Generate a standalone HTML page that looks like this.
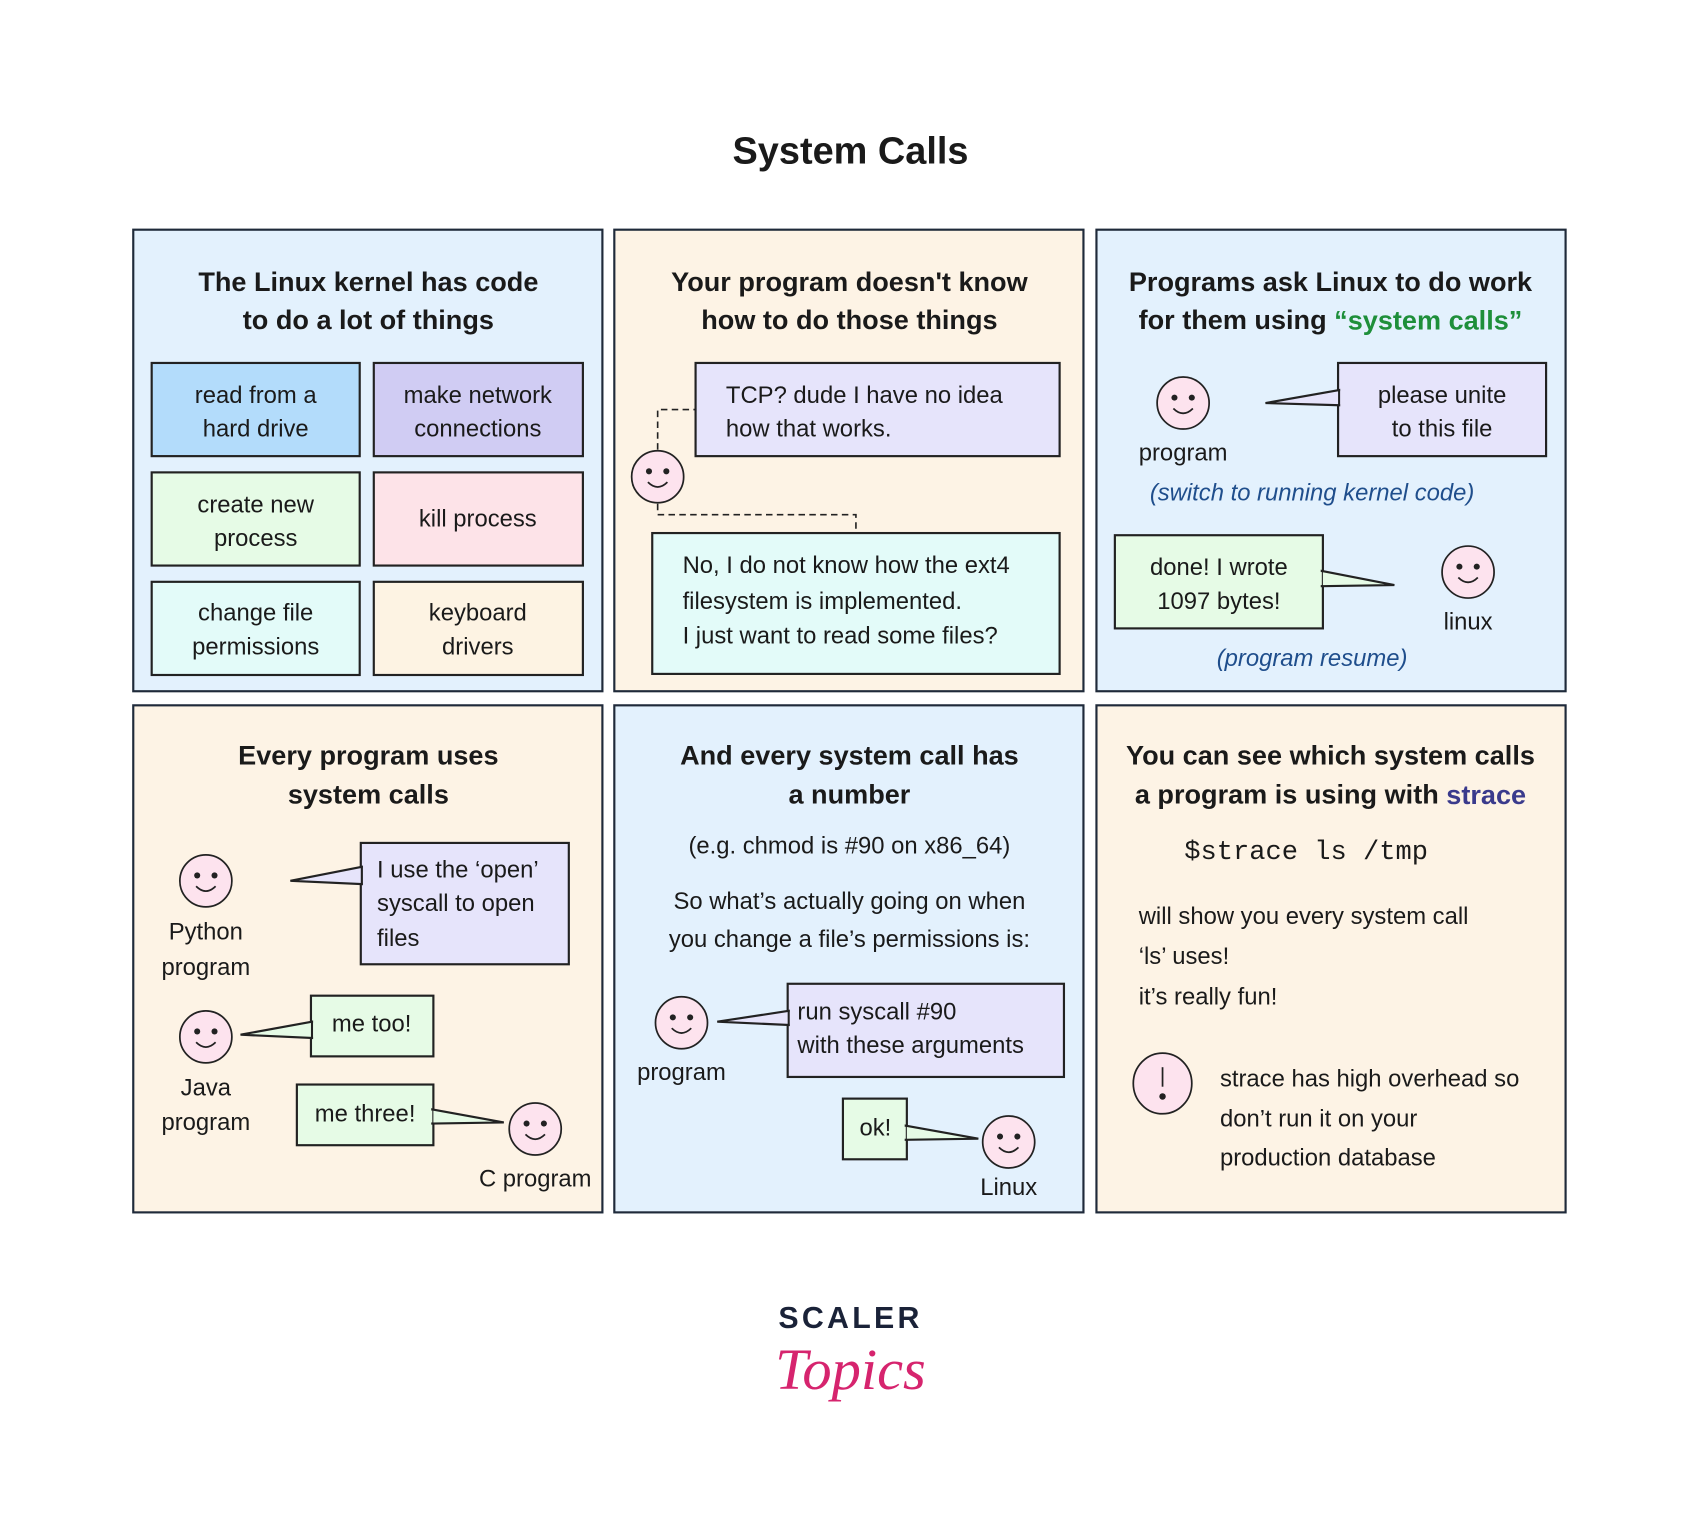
<!DOCTYPE html>
<html><head><meta charset="utf-8"><style>
html,body{margin:0;padding:0;background:#fff;}
svg{display:block;}
text{font-family:"Liberation Sans",sans-serif;fill:#1a1a1a;}
.h{font-weight:bold;font-size:25px;text-anchor:middle;}
.t{font-size:22px;}
.c{text-anchor:middle;}
.it{font-style:italic;fill:#1f4e8c;font-size:22px;text-anchor:middle;}
</style></head><body>
<svg width="1700" height="1519" viewBox="0 0 1569 1402" preserveAspectRatio="xMinYMin meet" xmlns="http://www.w3.org/2000/svg" dominant-baseline="central">
<defs>
<g id="sm"><circle r="24" fill="#fde3ee" stroke="#222" stroke-width="1.6"/><circle cx="-8" cy="-5" r="2.8" fill="#222"/><circle cx="8" cy="-5" r="2.8" fill="#222"/><path d="M-9 5 Q0 14 9 5" fill="none" stroke="#222" stroke-width="1.6"/></g>
</defs>
<text x="785" y="140" class="h" style="font-size:35px">System Calls</text>

<g stroke="#1f2a3a" stroke-width="2">
<rect x="123" y="212" width="433" height="426" fill="#e3f1fd"/>
<rect x="567" y="212" width="433" height="426" fill="#fdf3e5"/>
<rect x="1012" y="212" width="433" height="426" fill="#e3f1fd"/>
<rect x="123" y="651" width="433" height="468" fill="#fdf3e5"/>
<rect x="567" y="651" width="433" height="468" fill="#e3f1fd"/>
<rect x="1012" y="651" width="433" height="468" fill="#fdf3e5"/>
</g>

<text x="340" y="260" class="h">The Linux kernel has code</text>
<text x="340" y="295" class="h">to do a lot of things</text>
<g stroke="#222" stroke-width="2">
<rect x="140" y="335" width="192" height="86" fill="#b3dcfb"/>
<rect x="345" y="335" width="193" height="86" fill="#d0ccf3"/>
<rect x="140" y="436" width="192" height="86" fill="#e6fbe6"/>
<rect x="345" y="436" width="193" height="86" fill="#fde3e8"/>
<rect x="140" y="537" width="192" height="86" fill="#e3fbf9"/>
<rect x="345" y="537" width="193" height="86" fill="#fdf3e3"/>
</g>
<text x="236" y="365" class="t c">read from a</text><text x="236" y="396" class="t c">hard drive</text>
<text x="441" y="365" class="t c">make network</text><text x="441" y="396" class="t c">connections</text>
<text x="236" y="466" class="t c">create new</text><text x="236" y="497" class="t c">process</text>
<text x="441" y="479" class="t c">kill process</text>
<text x="236" y="566" class="t c">change file</text><text x="236" y="597" class="t c">permissions</text>
<text x="441" y="566" class="t c">keyboard</text><text x="441" y="597" class="t c">drivers</text>

<text x="784" y="260" class="h">Your program doesn't know</text>
<text x="784" y="295" class="h">how to do those things</text>
<path d="M607 415 V378 H642 M607 465 V475 H790 V492" fill="none" stroke="#222" stroke-width="1.5" stroke-dasharray="6 4"/>
<rect x="642" y="335" width="336" height="86" fill="#e6e4fb" stroke="#222" stroke-width="2"/>
<text x="670" y="365" class="t">TCP? dude I have no idea</text>
<text x="670" y="396" class="t">how that works.</text>
<use href="#sm" x="607" y="440"/>
<rect x="602" y="492" width="376" height="130" fill="#e3fbf9" stroke="#222" stroke-width="2"/>
<text x="630" y="522" class="t">No, I do not know how the ext4</text>
<text x="630" y="555" class="t">filesystem is implemented.</text>
<text x="630" y="587" class="t">I just want to read some files?</text>

<text x="1228" y="260" class="h">Programs ask Linux to do work</text>
<text x="1228" y="295" class="h">for them using <tspan style="fill:#1e8f3a">“system calls”</tspan></text>
<use href="#sm" x="1092" y="372"/>
<text x="1092" y="418" class="t c">program</text>
<rect x="1235" y="335" width="192" height="86" fill="#e6e4fb" stroke="#222" stroke-width="2"/>
<path d="M1236 360 L1168 372 L1236 374 Z" fill="#e6e4fb" stroke="#222" stroke-width="2"/>
<rect x="1237" y="361" width="4" height="12" fill="#e6e4fb"/>
<text x="1331" y="365" class="t c">please unite</text>
<text x="1331" y="396" class="t c">to this file</text>
<text x="1211" y="455" class="it">(switch to running kernel code)</text>
<rect x="1029" y="494" width="192" height="86" fill="#e6fbe6" stroke="#222" stroke-width="2"/>
<path d="M1220 527 L1287 540 L1220 541 Z" fill="#e6fbe6" stroke="#222" stroke-width="2"/>
<rect x="1215" y="528" width="5" height="12" fill="#e6fbe6"/>
<text x="1125" y="524" class="t c">done! I wrote</text>
<text x="1125" y="555" class="t c">1097 bytes!</text>
<use href="#sm" x="1355" y="528"/>
<text x="1355" y="574" class="t c">linux</text>
<text x="1211" y="608" class="it">(program resume)</text>

<text x="340" y="697" class="h">Every program uses</text>
<text x="340" y="733" class="h">system calls</text>
<use href="#sm" x="190" y="813"/>
<text x="190" y="860" class="t c">Python</text>
<text x="190" y="893" class="t c">program</text>
<rect x="333" y="778" width="192" height="112" fill="#e6e4fb" stroke="#222" stroke-width="2"/>
<path d="M334 800 L268 813 L334 816 Z" fill="#e6e4fb" stroke="#222" stroke-width="2"/>
<rect x="335" y="801" width="4" height="14" fill="#e6e4fb"/>
<text x="348" y="803" class="t">I use the ‘open’</text>
<text x="348" y="834" class="t">syscall to open</text>
<text x="348" y="866" class="t">files</text>
<use href="#sm" x="190" y="957"/>
<text x="190" y="1004" class="t c">Java</text>
<text x="190" y="1036" class="t c">program</text>
<rect x="287" y="919" width="113" height="56" fill="#e6fbe6" stroke="#222" stroke-width="2"/>
<path d="M288 943 L222 955 L288 958 Z" fill="#e6fbe6" stroke="#222" stroke-width="2"/>
<rect x="289" y="944" width="4" height="13" fill="#e6fbe6"/>
<text x="343" y="945" class="t c">me too!</text>
<rect x="274" y="1001" width="126" height="56" fill="#e6fbe6" stroke="#222" stroke-width="2"/>
<path d="M399 1024 L465 1036 L399 1037 Z" fill="#e6fbe6" stroke="#222" stroke-width="2"/>
<rect x="395" y="1025" width="4" height="11" fill="#e6fbe6"/>
<text x="337" y="1028" class="t c">me three!</text>
<use href="#sm" x="494" y="1042"/>
<text x="494" y="1088" class="t c">C program</text>

<text x="784" y="697" class="h">And every system call has</text>
<text x="784" y="733" class="h">a number</text>
<text x="784" y="781" class="t c">(e.g. chmod is #90 on x86_64)</text>
<text x="784" y="832" class="t c">So what’s actually going on when</text>
<text x="784" y="867" class="t c">you change a file’s permissions is:</text>
<use href="#sm" x="629" y="944"/>
<text x="629" y="990" class="t c">program</text>
<rect x="727" y="908" width="255" height="86" fill="#e6e4fb" stroke="#222" stroke-width="2"/>
<path d="M728 933 L662 943 L728 946 Z" fill="#e6e4fb" stroke="#222" stroke-width="2"/>
<rect x="729" y="934" width="4" height="11" fill="#e6e4fb"/>
<text x="736" y="934" class="t">run syscall #90</text>
<text x="736" y="965" class="t">with these arguments</text>
<rect x="778" y="1014" width="59" height="56" fill="#e6fbe6" stroke="#222" stroke-width="2"/>
<path d="M836 1039 L903 1051 L836 1052 Z" fill="#e6fbe6" stroke="#222" stroke-width="2"/>
<rect x="832" y="1040" width="4" height="11" fill="#e6fbe6"/>
<text x="808" y="1041" class="t c">ok!</text>
<use href="#sm" x="931" y="1054"/>
<text x="931" y="1096" class="t c">Linux</text>

<text x="1228" y="697" class="h">You can see which system calls</text>
<text x="1228" y="733" class="h">a program is using with <tspan style="fill:#3a3a8c">strace</tspan></text>
<text x="1093" y="787" style="font-family:'Liberation Mono',monospace;font-size:25px">$strace ls /tmp</text>
<text x="1051" y="846" class="t">will show you every system call</text>
<text x="1051" y="883" class="t">‘ls’ uses!</text>
<text x="1051" y="920" class="t">it’s really fun!</text>
<ellipse cx="1073" cy="1000" rx="27" ry="28" fill="#fde3ee" stroke="#222" stroke-width="1.6"/>
<line x1="1073" y1="985" x2="1073" y2="1003" stroke="#222" stroke-width="1.6"/>
<circle cx="1073" cy="1012" r="3" fill="#222"/>
<text x="1126" y="996" class="t">strace has high overhead so</text>
<text x="1126" y="1033" class="t">don’t run it on your</text>
<text x="1126" y="1069" class="t">production database</text>

<text x="785" y="1217" class="c" style="font-weight:bold;font-size:28px;letter-spacing:3px;fill:#1a2238">SCALER</text>
<text x="785" y="1264" class="c" style="font-family:'Liberation Serif',serif;font-style:italic;font-size:54px;fill:#d6246e">Topics</text>
</svg>
</body></html>
